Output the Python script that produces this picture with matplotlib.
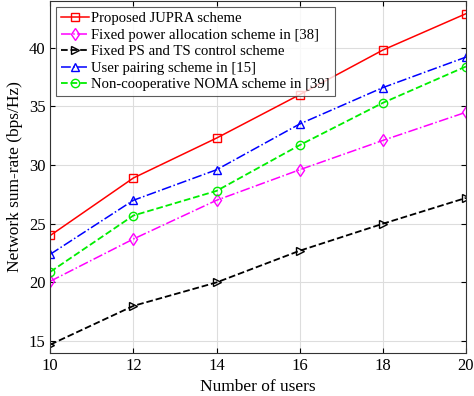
import matplotlib.pyplot as plt

plt.rcParams['font.family'] = ['Liberation Serif', 'DejaVu Serif']

users = [10, 12, 14, 16, 18, 20]
jupra = [24.0, 28.9, 32.3, 36.0, 39.8, 42.9]
fixed_power = [20.1, 23.7, 27.0, 29.6, 32.1, 34.5]
fixed_ps_ts = [14.7, 18.0, 20.0, 22.7, 25.0, 27.2]
user_pairing = [22.4, 27.0, 29.6, 33.5, 36.6, 39.2]
non_coop = [20.9, 25.7, 27.8, 31.7, 35.3, 38.4]

labels = ["Proposed JUPRA scheme",
          "Fixed power allocation scheme in [38]",
          "Fixed PS and TS control scheme",
          "User pairing scheme in [15]",
          "Non-cooperative NOMA scheme in [39]"]

fig = plt.figure(figsize=(4.74, 3.96), dpi=100)
ax = fig.add_axes([0.106, 0.109, 0.877, 0.889])

ms = 6
ax.plot(users, jupra, '-s', color='#ff0000', mfc='none', ms=ms, lw=1.1, label=labels[0])
ax.plot(users, fixed_power, '-.d', color='#ff00ff', mfc='none', ms=ms, lw=1.1, label=labels[1])
ax.plot(users, fixed_ps_ts, '-->', color='black', mfc='none', ms=ms, lw=1.3, label=labels[2])
ax.plot(users, user_pairing, '-.^', color='#0000ff', mfc='none', ms=ms, lw=1.1, label=labels[3])
ax.plot(users, non_coop, '--o', color='#00ee00', mfc='none', ms=ms, lw=1.3, label=labels[4])

ax.set_xlim(10, 20)
ax.set_ylim(14, 44)
ax.set_xticks([10, 12, 14, 16, 18, 20])
ax.set_yticks([15, 20, 25, 30, 35, 40])
ax.grid(True, color='#dddddd', lw=0.8)
ax.tick_params(direction='in', labelsize=12, top=True, right=True)
ax.set_xlabel("Number of users", fontsize=12.5)
ax.set_ylabel("Network sum-rate (bps/Hz)", fontsize=12.5)
for s in ax.spines.values():
    s.set_color('#333333')

leg = ax.legend(loc='upper left', fontsize=10.6, fancybox=False, edgecolor='#333333',
                handlelength=1.9, handletextpad=0.15, borderpad=0.35, labelspacing=0.22,
                borderaxespad=0.4)
leg.get_frame().set_linewidth(0.8)

fig.savefig('out.png', dpi=100)
